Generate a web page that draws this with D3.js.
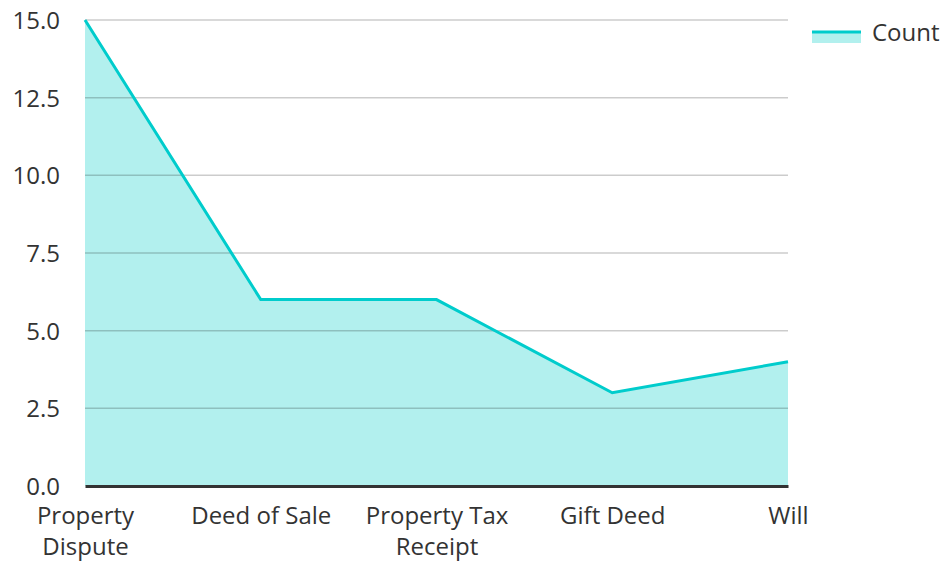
<!DOCTYPE html>
<html>
<head>
<meta charset="utf-8">
<script src="https://cdn.jsdelivr.net/npm/d3@7"></script>
<style>
  body { margin: 0; background: #fff; }
  svg text { font-family: "Open Sans", "Noto Sans", sans-serif; fill: #333; }
</style>
</head>
<body>
<svg id="chart" width="944" height="561"></svg>
<script>
const categories = ["Property Dispute", "Deed of Sale", "Property Tax Receipt", "Gift Deed", "Will"];
const counts = [15, 6, 6, 3, 4];
const yTicks = [0, 2.5, 5, 7.5, 10, 12.5, 15];
const seriesName = "Count";

const margin = { top: 20, right: 156, bottom: 75, left: 85 },
    width = 944 - margin.left - margin.right,
    height = 561 - margin.top - margin.bottom;

const svg = d3.select("#chart");
const g = svg.append("g")
    .attr("transform", `translate(${margin.left},${margin.top})`);

const data = categories.map((c, i) => ({ cat: c, value: counts[i] }));

const x = d3.scalePoint()
    .domain(categories)
    .range([0, width])
    .padding(0);

const y = d3.scaleLinear()
    .domain([0, 15])
    .range([height, 0]);

const area = d3.area()
    .x(d => x(d.cat))
    .y0(y(0))
    .y1(d => y(d.value));

const line = d3.line()
    .x(d => x(d.cat))
    .y(d => y(d.value));

g.append("path")
    .datum(data)
    .attr("d", area)
    .attr("fill", "#b2f0ee");

// grid lines on top of the fill
g.append("g")
    .selectAll("line")
    .data(yTicks.filter(t => t > 0))
    .enter()
    .append("line")
    .attr("x1", 0)
    .attr("x2", width)
    .attr("y1", d => y(d))
    .attr("y2", d => y(d))
    .attr("stroke", "rgba(0,0,0,0.2)")
    .attr("stroke-width", 1.5);

g.append("path")
    .datum(data)
    .attr("d", line)
    .attr("fill", "none")
    .attr("stroke", "#00cccc")
    .attr("stroke-width", 3);

// y axis
const yAxis = g.append("g")
    .call(d3.axisLeft(y).tickValues(yTicks).tickFormat(d3.format(".1f")).tickSize(0).tickPadding(25));
yAxis.select(".domain").remove();
yAxis.selectAll("text").attr("font-size", 24).attr("dy", "0.35em");

// x axis
const xAxis = g.append("g")
    .attr("transform", `translate(0,${height})`)
    .call(d3.axisBottom(x).tickSize(0).tickPadding(21));
xAxis.select(".domain").attr("stroke", "#333").attr("stroke-width", 3);
xAxis.selectAll("text").attr("font-size", 24).attr("dy", null).each(function(d) {
    const t = d3.select(this);
    let lines = [d];
    if (d === "Property Dispute") lines = ["Property", "Dispute"];
    if (d === "Property Tax Receipt") lines = ["Property Tax", "Receipt"];
    t.text(null);
    lines.forEach((l, i) => {
        t.append("tspan").attr("x", 0).attr("dy", i === 0 ? "0.71em" : "1.28em").text(l);
    });
});

// legend
const legend = svg.append("g").attr("transform", "translate(812,31)");
legend.append("rect").attr("x", 0).attr("y", 0).attr("width", 49).attr("height", 12).attr("fill", "#b2f0ee");
legend.append("line").attr("x1", 0).attr("x2", 49).attr("y1", 1).attr("y2", 1)
    .attr("stroke", "#00cccc").attr("stroke-width", 3);
legend.append("text").attr("x", 60).attr("y", 9.5).attr("font-size", 24).text(seriesName);
</script>
</body>
</html>
